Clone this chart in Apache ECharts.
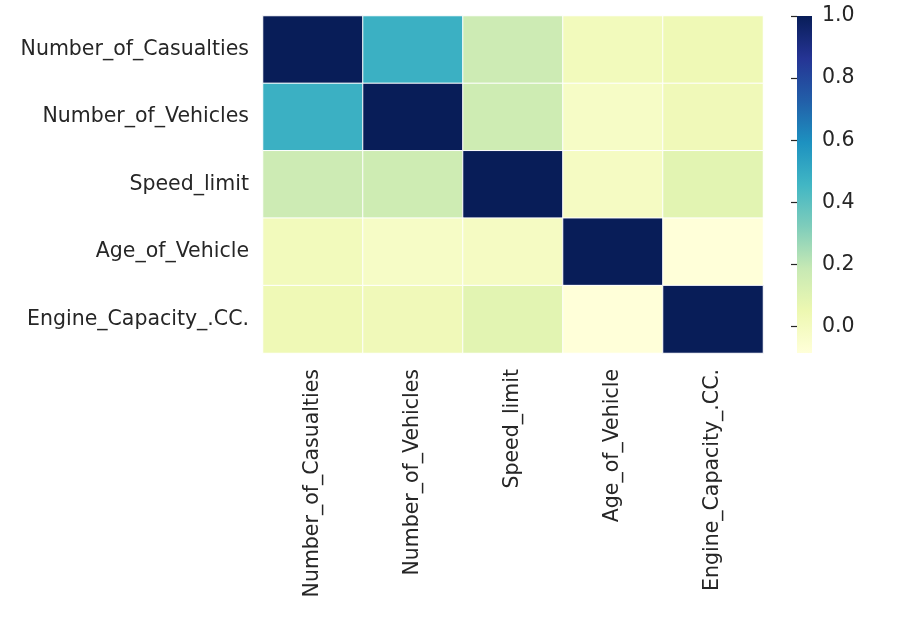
<!DOCTYPE html>
<html>
<head>
<meta charset="utf-8">
<script src="https://cdn.jsdelivr.net/npm/echarts@6/dist/echarts.min.js"></script>
<style>
html, body { margin: 0; padding: 0; background: #fff; }
#main { width: 900px; height: 631px; }
</style>
</head>
<body>
<div id="main"></div>
<script>
var labels = ['Number_of_Casualties', 'Number_of_Vehicles', 'Speed_limit', 'Age_of_Vehicle', 'Engine_Capacity_.CC.'];
var corr = [
    [1.0, 0.48, 0.165, 0.013, 0.035],
    [0.48, 1.0, 0.16, -0.02, 0.025],
    [0.165, 0.16, 1.0, -0.01, 0.09],
    [0.013, -0.02, -0.01, 1.0, -0.085],
    [0.035, 0.025, 0.09, -0.085, 1.0]
];
var cbarTicks = [0.0, 0.2, 0.4, 0.6, 0.8, 1.0];
var vmin = -0.085, vmax = 1.0;
var ylgnbu = ['#ffffd9', '#edf8b1', '#c7e9b4', '#7fcdbb', '#41b6c4', '#1d91c0', '#225ea8', '#253494', '#081d58'];

var cells = [];
for (var r = 0; r < corr.length; r++) {
    for (var c = 0; c < corr[r].length; c++) {
        cells.push([c, r, corr[r][c]]);
    }
}

var stops = ylgnbu.map(function (col, i) {
    return { offset: 1 - i / (ylgnbu.length - 1), color: col };
}).reverse();

var myChart = echarts.init(document.getElementById('main'));
var txt = '#262626';
var fs = 20.5;
var option = {
    backgroundColor: '#fff',
    animation: false,
    textStyle: { fontFamily: 'DejaVu Sans' },
    grid: [
        { left: 263, top: 16, width: 500, height: 337 },
        { left: 797, top: 16, width: 15, height: 337 }
    ],
    xAxis: [
        {
            type: 'category', data: labels, gridIndex: 0, position: 'bottom',
            axisLine: { show: false }, axisTick: { show: false }, splitLine: { show: false },
            axisLabel: { rotate: 90, fontSize: fs, color: txt, margin: 16, interval: 0 }
        },
        { type: 'value', gridIndex: 1, show: false, min: 0, max: 1 }
    ],
    yAxis: [
        {
            type: 'category', data: labels, gridIndex: 0, inverse: true,
            axisLine: { show: false }, axisTick: { show: false }, splitLine: { show: false },
            axisLabel: { fontSize: fs, color: txt, margin: 14, interval: 0 }
        },
        {
            type: 'value', gridIndex: 1, position: 'right', min: vmin, max: vmax,
            axisLine: { show: false }, splitLine: { show: false },
            axisTick: {
                show: true, inside: true, length: 6, customValues: cbarTicks,
                lineStyle: { color: txt, width: 1.2 }
            },
            axisLabel: {
                fontSize: fs, color: txt, margin: 10, customValues: cbarTicks,
                formatter: function (v) { return v.toFixed(1); }
            }
        }
    ],
    visualMap: {
        type: 'continuous', min: vmin, max: vmax, seriesIndex: 0, show: false,
        inRange: { color: ylgnbu }
    },
    graphic: [{
        type: 'rect', left: 797, top: 16, silent: true,
        shape: { width: 15, height: 337 },
        style: { fill: new echarts.graphic.LinearGradient(0, 0, 0, 1, stops) }
    }],
    series: [
        {
            type: 'heatmap', xAxisIndex: 0, yAxisIndex: 0, data: cells,
            itemStyle: { borderColor: '#fff', borderWidth: 1 },
            emphasis: { disabled: true }
        },
        { type: 'line', xAxisIndex: 1, yAxisIndex: 1, data: [], silent: true }
    ]
};
myChart.setOption(option);
</script>
</body>
</html>
